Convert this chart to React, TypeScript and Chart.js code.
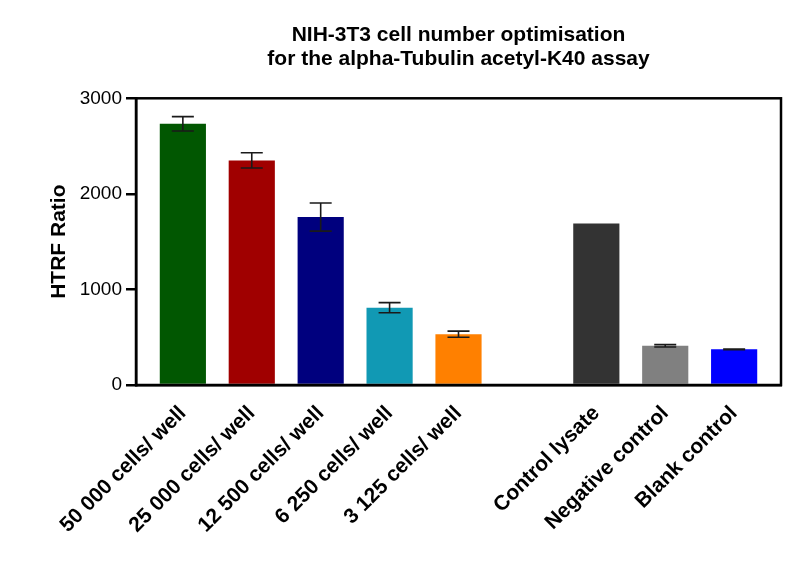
import React, { useEffect, useRef } from "react";
import { Chart, registerables } from "chart.js";

Chart.register(...registerables);

const categories = [
  "50 000 cells/ well",
  "25 000 cells/ well",
  "12 500 cells/ well",
  "6 250 cells/ well",
  "3 125 cells/ well",
  "",
  "Control lysate",
  "Negative control",
  "Blank control",
];
const means: (number | null)[] = [2733, 2350, 1757, 809, 532, null, 1691, 410, 373];
const errors: (number | null)[] = [75, 80, 147, 53, 32, null, 0, 12, 4];
const barColors = [
  "#015701",
  "#A00000",
  "#00007E",
  "#1199B4",
  "#FF8000",
  "#000000",
  "#333333",
  "#808080",
  "#0000FF",
];
const yTicks = [0, 1000, 2000, 3000];
const titleLines = ["NIH-3T3 cell number optimisation", "for the alpha-Tubulin acetyl-K40 assay"];

const FONT = "'Liberation Sans', Arial, Helvetica, sans-serif";

const errorBarPlugin = {
  id: "errorBars",
  afterDatasetsDraw(chart: any) {
    const meta = chart.getDatasetMeta(0);
    const yScale = chart.scales.y;
    const ctx = chart.ctx;
    ctx.save();
    ctx.strokeStyle = "#1a1a1a";
    ctx.lineWidth = 1.6;
    const pts = chart.data.datasets[0].data as any[];
    pts.forEach((p: any, i: number) => {
      const err = p.err;
      if (!err) return;
      const el = meta.data[i];
      const x = el.x;
      const yTop = yScale.getPixelForValue(p.y + err);
      const yBot = yScale.getPixelForValue(p.y - err);
      const cap = 11;
      ctx.beginPath();
      ctx.moveTo(x, yTop);
      ctx.lineTo(x, yBot);
      ctx.moveTo(x - cap, yTop);
      ctx.lineTo(x + cap, yTop);
      ctx.moveTo(x - cap, yBot);
      ctx.lineTo(x + cap, yBot);
      ctx.stroke();
    });
    ctx.restore();
  },
};

const frameAreaPlugin = {
  id: "frameArea",
  afterDraw(chart: any) {
    const { left, top, right, bottom } = chart.chartArea;
    const ctx = chart.ctx;
    ctx.save();
    ctx.strokeStyle = "#000";
    ctx.lineWidth = 2.5;
    ctx.strokeRect(left, top, right - left, bottom - top);
    ctx.restore();
  },
};

export default function App() {
  const ref = useRef<HTMLCanvasElement | null>(null);

  useEffect(() => {
    document.body.style.margin = "0";
    if (!ref.current) return;
    const points: any[] = [];
    const colors: string[] = [];
    means.forEach((m, i) => {
      if (m === null) return;
      points.push({ x: i, y: m, err: errors[i] });
      colors.push(barColors[i]);
    });

    const chart = new Chart(ref.current, {
      type: "bar",
      data: {
        datasets: [
          {
            data: points,
            backgroundColor: colors,
            borderWidth: 0,
            barPercentage: 0.67,
            categoryPercentage: 1,
          },
        ],
      },
      options: {
        animation: false,
        responsive: false,
        devicePixelRatio: 1,
        layout: { padding: { left: 0, right: 19, top: 0, bottom: 0 } },
        plugins: {
          legend: { display: false },
          tooltip: { enabled: false },
          title: {
            display: true,
            text: titleLines,
            fullSize: false,
            color: "#000",
            font: { family: FONT, size: 21, weight: "bold", lineHeight: 1.15 },
            padding: { top: 23, bottom: 27 },
          },
        },
        scales: {
          x: {
            type: "linear",
            offset: false,
            min: -0.68,
            max: 8.68,
            grid: { display: false, drawTicks: false, offset: false },
            border: { display: true, color: "#000", width: 2.5 },
            ticks: {
              stepSize: 1,
              autoSkip: false,
              includeBounds: false,
              maxRotation: 45,
              minRotation: 45,
              padding: 16,
              color: "#000",
              font: { family: FONT, size: 21, weight: "bold" },
              callback: (v: any) => {
                const n = Number(v);
                return Number.isInteger(n) && categories[n] ? categories[n] : "";
              },
            },
            afterFit: (s: any) => {
              s.height = 185;
            },
          },
          y: {
            min: 0,
            max: 3000,
            grid: {
              display: true,
              drawOnChartArea: false,
              drawTicks: true,
              tickLength: 10,
              tickColor: "#000",
              tickWidth: 2.5,
              color: "#000",
              lineWidth: 2.5,
            },
            border: { display: true, color: "#000", width: 2.5 },
            afterBuildTicks: (s: any) => {
              s.ticks = yTicks.map((v) => ({ value: v }));
            },
            ticks: {
              padding: 4,
              color: "#000",
              font: { family: FONT, size: 19 },
              callback: (v: any) => String(v),
            },
            title: {
              display: true,
              text: "HTRF Ratio",
              color: "#000",
              font: { family: FONT, size: 21, weight: "bold", lineHeight: 1.2 },
              padding: { top: 47, bottom: 0 },
            },
            afterFit: (s: any) => {
              s.width = 136;
            },
          },
        },
      },
      plugins: [errorBarPlugin, frameAreaPlugin],
    } as any);
    return () => chart.destroy();
  }, []);

  return (
    <div style={{ position: "absolute", left: 0, top: 0, width: 800, height: 570, background: "#fff" }}>
      <canvas ref={ref} width={800} height={570} />
    </div>
  );
}
